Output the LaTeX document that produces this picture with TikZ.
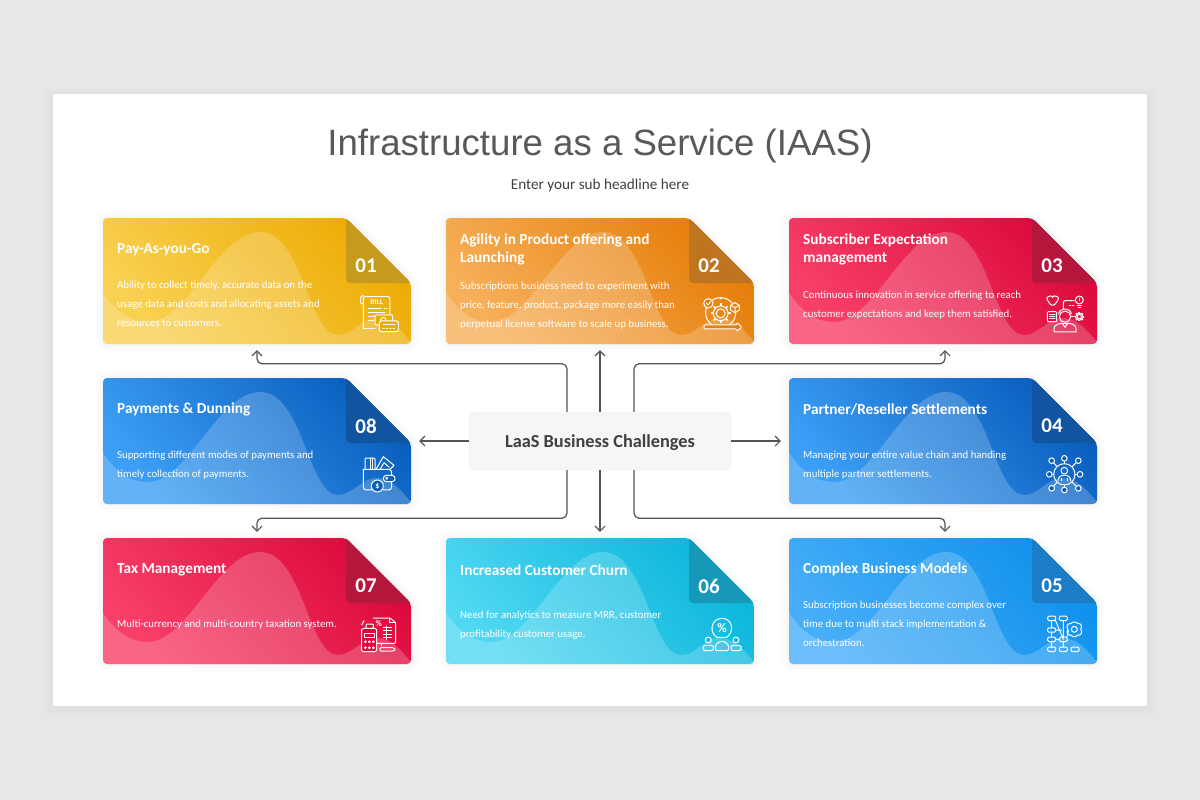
\documentclass[tikz,border=0pt]{standalone}
\usepackage{fontspec}
\setmainfont{Carlito}
\newfontfamily\titlefont{Liberation Sans}
\usetikzlibrary{arrows.meta,calc}
\definecolor{pagebg}{HTML}{E8E7E9}
\definecolor{titlegray}{HTML}{595959}
\definecolor{subgray}{HTML}{404040}
\definecolor{linegray}{HTML}{555555}
\definecolor{yA}{HTML}{F9D152}\definecolor{yB}{HTML}{EDAC05}\definecolor{yF}{HTML}{C69A1C}
\definecolor{oA}{HTML}{F7B05A}\definecolor{oB}{HTML}{E67E0A}\definecolor{oF}{HTML}{BF7420}
\definecolor{rA}{HTML}{F83F68}\definecolor{rB}{HTML}{DC0A3C}\definecolor{rF}{HTML}{B5173D}
\definecolor{bA}{HTML}{3C9FF5}\definecolor{bB}{HTML}{0A5EBE}\definecolor{bF}{HTML}{11549F}
\definecolor{lA}{HTML}{47AEF8}\definecolor{lB}{HTML}{1091EC}\definecolor{lF}{HTML}{1B7DC6}
\definecolor{cA}{HTML}{50D8F2}\definecolor{cB}{HTML}{0CB6DC}\definecolor{cF}{HTML}{1698B8}
\tikzset{
  cardnode/.style={minimum width=308pt,minimum height=126pt,inner sep=0pt,draw=none},
  wave/.style={fill=white,opacity=.2},
  headtext/.style={anchor=west,inner sep=0pt,yshift=-.8pt,text=white,align=left,font=\fontsize{15.3}{18}\selectfont\bfseries},
  bodytext/.style={anchor=west,inner sep=0pt,yshift=-1.2pt,text=white,align=left,font=\fontsize{10.8}{19}\selectfont},
  numtext/.style={inner sep=0pt,text=white,font=\fontsize{21}{21}\selectfont\bfseries},
  hubbox/.style={draw=black!8,fill=black!3.5,rounded corners=6pt,minimum width=262pt,minimum height=58pt,inner sep=0pt,text=subgray,font=\fontsize{18.3}{20}\selectfont\bfseries},
  conn/.style={draw=linegray,line width=1.25pt,rounded corners=5pt,-{Straight Barb[length=5pt,width=10pt,line width=1.1pt]}},
  ic/.style={draw=white,line width=1pt,line cap=round,line join=round},
  icfill/.style={ic,fill=#1},
}
\newcommand{\cardpath}{(0,0) -- (243,0) -- (308,65) -- (308,126) -- (0,126) -- cycle}
\newcommand{\cardshape}[6]{%
  \node[cardnode] (#1) at ({#2+154},{#3+63}) {};
  \begin{scope}[shift={(#2,#3)}]
    \foreach \w/\o in {16/.006,11/.007,7/.008,3/.01}{\draw[black,opacity=\o,line width=\w pt,rounded corners=4pt] \cardpath;}
    \begin{scope}
      \clip[rounded corners=4pt] \cardpath;
      \shade[top color=#4,bottom color=#5,shading angle=130] (0,0) rectangle (308,126);
      \fill[wave] (0,75) .. controls (12,92) and (25,104) .. (45,104)
        .. controls (85,104) and (115,14) .. (157,14)
        .. controls (200,14) and (205,117) .. (235,117)
        .. controls (250,117) and (258,100) .. (274,100)
        .. controls (288,100) and (298,112) .. (308,124)
        -- (308,126) -- (0,126) -- cycle;
      \fill[#6] (243,0) -- (308,65) [rounded corners=4pt] -- (243,65) [sharp corners] -- cycle;
    \end{scope}
  \end{scope}}
\newcommand{\pill}[2]{\draw[ic,rounded corners=1.2pt] ({#1-12},{#2-6.5}) rectangle ({#1+12},{#2+6.5});}
\newcommand{\gearat}[3]{% x y r
  \draw[ic] (#1,#2) circle ({#3*.5});
  \draw[ic] (#1,#2) circle ({#3*.82});
  \foreach \a in {0,45,...,315}{\draw[ic,line width=1.7pt,line cap=butt] ($(#1,#2)+(\a:{#3*.82})$) -- ($(#1,#2)+(\a:{#3*1.1})$);}}
\begin{document}
\begin{tikzpicture}[x=1pt,y=-1pt]
\useasboundingbox (0,0) rectangle (1200,800);
\fill[pagebg] (0,0) rectangle (1200,800);
\foreach \w/\o in {22/.005,16/.006,10/.007,5/.008}{\draw[black,opacity=\o,line width=\w pt] (53,95) rectangle (1147,708);}
\fill[white] (53,94) rectangle (1147,706);
\node[inner sep=0pt,text=titlegray,font=\titlefont\fontsize{36.6}{40}\selectfont] (title) at (600,146) {Infrastructure as a Service (IAAS)};
\node[inner sep=0pt,text=subgray,font=\fontsize{15.2}{18}\selectfont] (sub) at (600,185.5) {Enter your sub headline here};

\cardshape{c1}{103}{218}{yA}{yB}{yF}
\cardshape{c2}{446}{218}{oA}{oB}{oF}
\cardshape{c3}{789}{218}{rA}{rB}{rF}
\cardshape{c4}{789}{378}{bA}{bB}{bF}
\cardshape{c5}{789}{538}{lA}{lB}{lF}
\cardshape{c6}{446}{538}{cA}{cB}{cF}
\cardshape{c7}{103}{538}{rA}{rB}{rF}
\cardshape{c8}{103}{378}{bA}{bB}{bF}

% hub
\node[hubbox] (hub) at (600,441) {\raisebox{-6.5pt}[0pt][0pt]{LaaS Business Challenges}};
\draw[conn] ([xshift=-33pt]hub.north) -- ++(0,-48) -| ([yshift=-6pt]c1.south);
\draw[conn] ([xshift=34pt]hub.north) -- ++(0,-48) -| ([xshift=2pt,yshift=-6pt]c3.south);
\draw[conn] (hub.north) -- ([yshift=-6pt]c2.south);
\draw[conn] ([xshift=-33pt]hub.south) -- ++(0,48) -| ([yshift=6pt]c7.north);
\draw[conn] ([xshift=34pt]hub.south) -- ++(0,48) -| ([xshift=2pt,yshift=6pt]c5.north);
\draw[conn] (hub.south) -- ([yshift=6pt]c6.north);
\draw[conn] (hub.west) -- ([xshift=8pt]c8.east);
\draw[conn] (hub.east) -- ([xshift=-8pt]c4.west);

% texts
\node[headtext] (t1) at (117,249) {Pay-As-you-Go};
\node[bodytext] (b1) at (117,303) {Ability to collect timely, accurate data on the\\usage data and costs and allocating assets and\\resources to customers.};
\node[numtext] (n1) at (366,266) {01};
\node[headtext] (t2) at (460,249) {Agility in Product offering and\\Launching};
\node[bodytext] (b2) at (460,304) {Subscriptions business need to experiment with\\price, feature, product, package more easily than\\perpetual license software to scale up business.};
\node[numtext] (n2) at (709,266) {02};
\node[headtext] (t3) at (803,249) {Subscriber Expectation\\management};
\node[bodytext] (b3) at (803,303.5) {Continuous innovation in service offering to reach\\customer expectations and keep them satisfied.};
\node[numtext] (n3) at (1052,266) {03};
\node[headtext] (t4) at (803,409) {Partner/Reseller Settlements};
\node[bodytext] (b4) at (803,463.5) {Managing your entire value chain and handing\\multiple partner settlements.};
\node[numtext] (n4) at (1052,426) {04};
\node[headtext] (t5) at (803,569) {Complex Business Models};
\node[bodytext] (b5) at (803,623) {Subscription businesses become complex over\\time due to multi stack implementation \&\\orchestration.};
\node[numtext] (n5) at (1052,586) {05};
\node[headtext] (t6) at (460,569) {Increased Customer Churn};
\node[bodytext] (b6) at (460,623.5) {Need for analytics to measure MRR, customer\\profitability customer usage.};
\node[numtext] (n6) at (709,586) {06};
\node[headtext] (t7) at (117,569) {Tax Management};
\node[bodytext] (b7) at (117,623) {Multi-currency and multi-country taxation system.};
\node[numtext] (n7) at (366,586) {07};
\node[headtext] (t8) at (117,409) {Payments \& Dunning};
\node[bodytext] (b8) at (117,463.5) {Supporting different modes of payments and\\timely collection of payments.};
\node[numtext] (n8) at (366,426) {08};

% icon 1 bill
\begin{scope}[shift={(340,270)},x=.3333pt,y=-.3333pt]
  \draw[ic,rounded corners=1.5pt] (70,175) -- (70,80) -- (150,80) -- (150,135);
  \draw[ic,rounded corners=1.5pt] (70,102) -- (62,102) -- (62,78) -- (72,78);
  \draw[ic] (70,175) -- (105,175);
  \node[inner sep=0pt,text=white,font=\fontsize{7.5}{7.5}\selectfont\bfseries] (billtext) at (110,97) {BILL};
  \draw[ic] (85,116) -- (122,116) (132,116) -- (140,116) (85,127) -- (135,127) (85,140) -- (108,140) (85,152) -- (100,152);
  \draw[icfill=yB,rounded corners=1pt] (105,135) rectangle (158,165);
  \draw[ic] (130,150) circle (8);
  \draw[icfill=yB,rounded corners=1.5pt] (118,153) rectangle (175,185);
  \draw[ic] (130,165) -- (165,165);
  \draw[ic,dash pattern=on 1.5pt off 2pt] (128,176) -- (165,176);
\end{scope}
% icon 2 gear and arrow
\begin{scope}[shift={(680,270)},x=.3333pt,y=-.3333pt]
  \draw[ic] (122,128) circle (45);
  \gearat{122}{130}{27}
  \draw[icfill=oB] (85,100) circle (14);
  \draw[ic] (79,100) -- (84,105) -- (92,95);
  \draw[icfill=oB] (165,98) -- (178,106) -- (178,120) -- (165,128) -- (152,120) -- (152,106) -- cycle;
  \draw[ic] (152,106) -- (165,113) -- (178,106) (165,113) -- (165,128);
  \fill[white] (122,85) circle (4);
  \draw[icfill=oB,rounded corners=1pt] (72,165) -- (170,165) -- (170,158) -- (186,171) -- (170,184) -- (170,177) -- (72,177) -- cycle;
\end{scope}
% icon 3 person
\begin{scope}[shift={(1030,270)},x=.3333pt,y=-.3333pt]
  \draw[ic,rounded corners=3pt] (68,110) -- (54,95) .. controls (48,80) and (64,76) .. (68,87) .. controls (72,76) and (88,80) .. (82,95) -- cycle;
  \draw[ic] (148,90) circle (12);
  \draw[ic] (142,107) -- (154,107) (144,112) -- (152,112) (148,84) -- (148,92);
  \draw[ic,rounded corners=2pt] (100,118) -- (100,92) -- (133,92);
  \draw[ic,dash pattern=on 1.5pt off 1.5pt] (118,106) -- (135,106);
  \draw[ic] (105,140) circle (17);
  \draw[ic] (86,132) .. controls (88,112) and (122,112) .. (124,132);
  \draw[ic] (72,186) -- (72,175) .. controls (72,165) and (85,162) .. (92,160) -- (118,160) .. controls (125,162) and (138,165) .. (138,175) -- (138,186) -- cycle;
  \draw[ic] (97,160) -- (105,172) -- (113,160);
  \draw[icfill=rB,rounded corners=1pt] (52,125) rectangle (80,155);
  \draw[ic] (58,133) -- (75,133) (58,140) -- (75,140) (58,147) -- (75,147);
  \gearat{148}{140}{13}
  \draw[ic] (122,140) -- (134,140);
\end{scope}
% icon 4 network
\begin{scope}[shift={(1030,440)},x=.3333pt,y=-.3333pt]
  \draw[ic] (103,103) circle (32);
  \draw[ic] (103,92) circle (10);
  \draw[ic] (84,122) .. controls (84,100) and (122,100) .. (122,122);
  \draw[ic] (93,122) -- (93,115) (113,122) -- (113,115);
  \foreach \x/\y in {65/62,103/55,145/62,58/103,150/103,65/145,103/150,145/145}{
    \draw[ic] (103,103) ++ ({atan2(\y-103,\x-103)}:32) -- (\x,\y);
    \draw[icfill=bB] (\x,\y) circle (8.5);}
\end{scope}
% icon 5 flow
\begin{scope}[shift={(1030,600)},x=.3333pt,y=-.3333pt]
  \draw[ic] (75,58) -- (100,118) (65,62) -- (65,85) (65,96) -- (65,112) (65,124) -- (65,142) (75,118) -- (90,118) (76,90) -- (95,90) (100,62) -- (100,112);
  \pill{65}{55}\pill{100}{55}\pill{65}{90}\pill{65}{118}\pill{100}{118}\pill{65}{148}\pill{100}{148}\pill{135}{148}
  \draw[ic] (100,124) -- (100,142) (116,92) -- (110,112);
  \draw[ic] (133,88) circle (9);
  \draw[ic,rounded corners=1pt] (126,66) -- (140,66) -- (142,72) -- (150,70) -- (156,80) -- (151,87) -- (156,96) -- (150,106) -- (142,104) -- (140,110) -- (126,110) -- (124,104) -- (116,106) -- (110,96) -- (115,88) -- (110,80) -- (116,70) -- (124,72) -- cycle;
\end{scope}
% icon 6 percent bulb
\begin{scope}[shift={(680,600)},x=.3333pt,y=-.3333pt]
  \draw[ic] (110,112) .. controls (85,95) and (95,55) .. (126,55) .. controls (157,55) and (165,95) .. (140,112) -- (110,112);
  \node[inner sep=0pt,text=white,font=\fontsize{13}{13}\selectfont\bfseries] (pct) at (126,85) {\%};
  \draw[ic] (85,120) circle (9) (168,120) circle (9);
  \draw[ic,rounded corners=1.5pt] (70,152) -- (70,136) -- (100,136) -- (100,152) -- cycle;
  \draw[ic,rounded corners=1.5pt] (153,152) -- (153,136) -- (183,136) -- (183,152) -- cycle;
  \draw[ic,rounded corners=1.5pt] (106,152) -- (106,135) -- (120,124) -- (132,124) -- (146,135) -- (146,152) -- cycle;
\end{scope}
% icon 7 tax
\begin{scope}[shift={(340,600)},x=.3333pt,y=-.3333pt]
  \draw[ic,rounded corners=1pt] (100,54) -- (150,54) -- (167,68) -- (167,130) -- (110,130);
  \draw[ic] (150,54) -- (150,68) -- (167,68);
  \draw[ic] (125,130) -- (125,138);
  \node[inner sep=0pt,text=white,font=\fontsize{8.5}{8.5}\selectfont\bfseries] (pct7) at (116,72) {\%};
  \draw[ic] (130,82) -- (155,82) (130,92) -- (155,92) (130,102) -- (155,102) (130,112) -- (155,112) (140,78) -- (140,118);
  \draw[icfill=rB,rounded corners=1.5pt] (65,85) rectangle (110,155);
  \draw[icfill=rB,rounded corners=1pt] (78,72) rectangle (100,85);
  \draw[ic] (74,100) rectangle (102,112);
  \foreach \x in {76,88,100}{\foreach \y in {125,143}{\fill[white] (\x,\y) circle (4.5);}}
  \draw[ic,rounded corners=1pt] (120,143) -- (160,143) -- (167,148) -- (160,153) -- (120,153) -- cycle;
  \draw[ic] (65,75) -- (72,62);
\end{scope}
% icon 8 wallet
\begin{scope}[shift={(340,440)},x=.3333pt,y=-.3333pt]
  \draw[ic,rounded corners=1pt] (75,88) -- (75,54) -- (105,54) -- (105,88);
  \draw[ic] (90,54) -- (90,88) (98,54) -- (98,88);
  \draw[ic] (108,88) -- (130,50) -- (162,76) -- (150,88);
  \draw[ic] (120,88) -- (132,68) -- (148,82);
  \draw[ic,rounded corners=3pt] (70,88) -- (155,88) -- (155,106);
  \draw[ic,rounded corners=3pt] (70,88) -- (70,150) -- (95,150);
  \draw[ic,rounded corners=3pt] (130,150) -- (155,150) -- (155,125);
  \draw[icfill=bB,rounded corners=3pt] (130,106) rectangle (165,125);
  \draw[ic] (140,115) circle (3);
  \draw[icfill=bB] (112,138) circle (18);
  \node[inner sep=0pt,text=white,font=\fontsize{8}{8}\selectfont\bfseries] (usd) at (112,138) {\$};
\end{scope}
\end{tikzpicture}
\end{document}
